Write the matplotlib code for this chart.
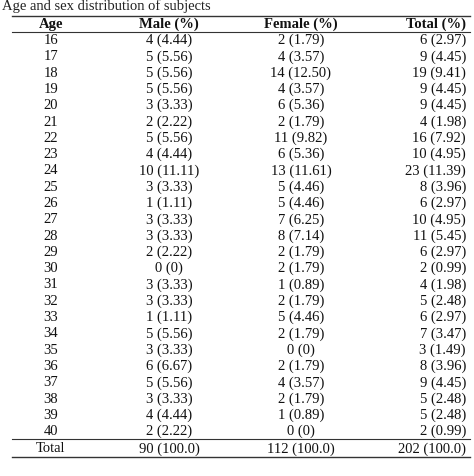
import matplotlib
matplotlib.use("Agg")
import matplotlib.pyplot as plt

ages = [str(a) for a in range(16, 41)] + ["Total"]
male = ["4 (4.44)","5 (5.56)","5 (5.56)","5 (5.56)","3 (3.33)","2 (2.22)","5 (5.56)","4 (4.44)","10 (11.11)","3 (3.33)","1 (1.11)","3 (3.33)","3 (3.33)","2 (2.22)","0 (0)","3 (3.33)","3 (3.33)","1 (1.11)","5 (5.56)","3 (3.33)","6 (6.67)","5 (5.56)","3 (3.33)","4 (4.44)","2 (2.22)","90 (100.0)"]
female = ["2 (1.79)","4 (3.57)","14 (12.50)","4 (3.57)","6 (5.36)","2 (1.79)","11 (9.82)","6 (5.36)","13 (11.61)","5 (4.46)","5 (4.46)","7 (6.25)","8 (7.14)","2 (1.79)","2 (1.79)","1 (0.89)","2 (1.79)","5 (4.46)","2 (1.79)","0 (0)","2 (1.79)","4 (3.57)","2 (1.79)","1 (0.89)","0 (0)","112 (100.0)"]
total = ["6 (2.97)","9 (4.45)","19 (9.41)","9 (4.45)","9 (4.45)","4 (1.98)","16 (7.92)","10 (4.95)","23 (11.39)","8 (3.96)","6 (2.97)","10 (4.95)","11 (5.45)","6 (2.97)","2 (0.99)","4 (1.98)","5 (2.48)","6 (2.97)","7 (3.47)","3 (1.49)","8 (3.96)","9 (4.45)","5 (2.48)","5 (2.48)","2 (0.99)","202 (100.0)"]
headers = ["Age", "Male (%)", "Female (%)", "Total (%)"]

W, H = 474, 477
fig = plt.figure(figsize=(W/100, H/100), dpi=100)
ax = fig.add_axes([0, 0, 1, 1])
ax.set_xlim(0, W); ax.set_ylim(H, 0); ax.axis("off")
fam = "Liberation Serif"
fs = 10.5

ax.text(2, 6, "Age and sex distribution of subjects", fontsize=fs, family=fam, va="center", ha="left", color="#222")
for y, lw in [(16.5, 1.0), (33, 0.8), (440, 0.8), (458, 1.0)]:
    ax.plot([12, 470], [y, y], color="#333", lw=lw)

hx = [(51, "center"), (169, "center"), (301, "center"), (466, "right")]
for (x, ha), h in zip(hx, headers):
    ax.text(x, 24.5, h, fontsize=fs, family=fam, weight="bold", ha=ha, va="center", color="#111")

for i in range(len(ages)):
    y = 40.5 + i * 16.3 if i < 25 else 449
    for (x, ha), col in zip(hx, [ages, male, female, total]):
        ax.text(x, y, col[i], fontsize=fs, family=fam, ha=ha, va="center", color="#111")

fig.savefig("out.png", dpi=100)
